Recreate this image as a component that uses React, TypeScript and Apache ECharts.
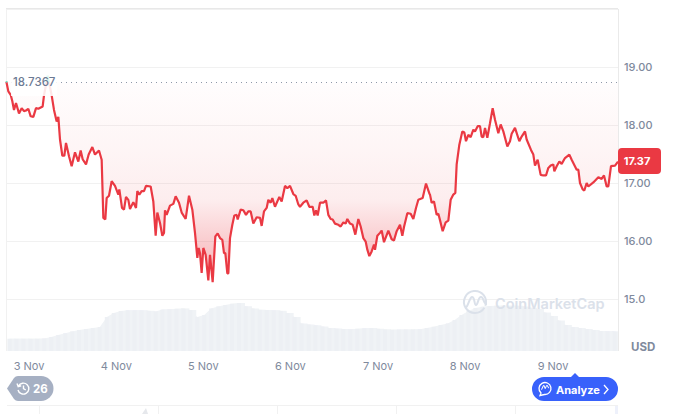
import React, { useEffect, useRef } from "react";
import * as echarts from "echarts";

const dayLabels = ["3 Nov", "4 Nov", "5 Nov", "6 Nov", "7 Nov", "8 Nov", "9 Nov"];
const daySamples = [87, 349, 610, 871, 1134, 1395, 1659];
const yTickLabels: Record<number, string> = { 15: "15.0", 16: "16.00", 17: "17.00", 18: "18.00", 19: "19.00" };
const openPrice = 18.7367;
const lastPrice = 17.37;

const sampleIndex = [
  19, 25, 32, 37, 42, 48, 57, 65, 72, 78, 85, 92, 100, 108, 115, 128, 132, 143, 155, 162, 170, 175, 180, 187, 193, 198, 207, 215, 225, 235, 242, 248, 258, 266, 277, 285, 297, 305, 310, 316, 320, 327, 335, 345, 355, 358, 366, 372, 378, 385, 390, 400, 408, 412, 418, 425, 432, 438, 452, 460, 467, 472, 480, 487, 492, 495, 500, 510, 520, 527, 537, 545, 557, 567, 577, 585, 592, 596,
  600, 605, 610, 617, 625, 630, 638, 646, 653, 660, 667, 672, 676, 682, 685, 690, 697, 703, 710, 713, 722, 730, 738, 745, 752, 760, 770, 780, 785, 792, 800, 805, 812, 817, 825, 838, 845, 855, 862, 870, 880, 887, 895, 900, 910, 920, 928, 938, 943, 948, 953, 960, 970, 978, 985, 992, 998, 1005, 1015, 1022, 1030, 1037, 1042, 1050, 1058, 1066, 1075, 1082, 1090, 1097, 1102, 1108, 1115, 1122, 1125, 1132, 1140, 1145, 1152, 1165, 1175, 1182, 1190, 1200, 1207, 1212, 1222, 1232, 1240, 1248, 1255, 1268, 1278, 1288,
  1290, 1295, 1302, 1310, 1315, 1320, 1328, 1337, 1345, 1352, 1360, 1366, 1370, 1378, 1387, 1393, 1398, 1405, 1412, 1420, 1425, 1433, 1440, 1445, 1450, 1455, 1462, 1470, 1478, 1485, 1495, 1502, 1510, 1522, 1530, 1535, 1545, 1558, 1565, 1575, 1580, 1593, 1600, 1605, 1613, 1622, 1630, 1638, 1645, 1652, 1660, 1663, 1670, 1678, 1685, 1695, 1708, 1715, 1730, 1735, 1740, 1748, 1753, 1760, 1765, 1780, 1795, 1805, 1812, 1820, 1825, 1833, 1845, 1854,
];
const prices = [
  18.75, 18.58, 18.52, 18.41, 18.26, 18.38, 18.2, 18.29, 18.24, 18.25, 18.28, 18.15, 18.14, 18.29, 18.28, 18.32, 18.51, 18.85, 18.51, 18.26, 18.06, 18.14, 17.75, 17.47, 17.47, 17.69, 17.46, 17.29, 17.53, 17.37, 17.56, 17.41, 17.32, 17.49, 17.62, 17.49, 17.56, 17.4, 16.4, 16.37, 16.74, 16.78, 17.03, 16.95, 16.8, 16.89, 16.57, 16.54, 16.76, 16.71, 16.55, 16.67, 16.57, 16.86, 16.8, 16.86, 16.86, 16.95, 16.94, 16.68, 16.09, 16.49, 16.31, 16.09, 16.14, 16.53, 16.45, 16.61, 16.64, 16.77, 16.66, 16.49, 16.38, 16.78, 16.54, 16.14, 15.71, 15.88,
  15.79, 15.45, 15.88, 15.76, 15.32, 15.76, 15.29, 16.08, 16.13, 16.05, 16.02, 15.79, 15.79, 15.44, 15.44, 16.05, 16.28, 16.44, 16.45, 16.37, 16.54, 16.53, 16.45, 16.51, 16.51, 16.3, 16.41, 16.4, 16.26, 16.51, 16.57, 16.71, 16.66, 16.74, 16.59, 16.76, 16.68, 16.95, 16.91, 16.95, 16.81, 16.78, 16.63, 16.59, 16.66, 16.7, 16.59, 16.59, 16.44, 16.53, 16.44, 16.66, 16.66, 16.7, 16.45, 16.38, 16.37, 16.3, 16.28, 16.25, 16.32, 16.3, 16.38, 16.3, 16.28, 16.11, 16.38, 16.25, 16.05, 15.99, 15.85, 15.74, 15.82, 15.94, 15.85, 16.09, 16.14, 16.18, 15.98, 16.18, 16.03, 16.01, 16.17, 16.28, 16.09, 16.24, 16.48, 16.47, 16.38, 16.57, 16.71, 16.74, 16.99, 16.82,
  16.8, 16.66, 16.68, 16.45, 16.47, 16.36, 16.17, 16.32, 16.35, 16.71, 16.8, 16.83, 17.32, 17.66, 17.89, 17.87, 17.72, 17.83, 17.79, 17.92, 17.89, 17.98, 17.98, 17.8, 17.79, 17.95, 17.78, 18.03, 18.29, 18.09, 17.86, 18.01, 17.89, 17.63, 17.72, 17.85, 17.95, 17.72, 17.8, 17.89, 17.75, 17.57, 17.49, 17.3, 17.4, 17.14, 17.13, 17.13, 17.26, 17.3, 17.32, 17.2, 17.29, 17.37, 17.33, 17.43, 17.49, 17.4, 17.23, 17.23, 17, 16.89, 16.87, 17, 16.94, 17.01, 17.1, 17.07, 17.13, 16.94, 16.94, 17.29, 17.3, 17.37,
];
const volumes = [
  12.3, 12.3, 12.3, 12.3, 12.3, 12.5, 14, 16, 17.7, 19.5, 21, 22, 23, 24, 34, 38, 40, 40.7, 40.7, 40.7, 40.2, 39.5, 41.4, 41.8, 42.2, 42.6, 41, 34, 36, 42.5, 44.5, 46, 47.3, 48, 44.8, 42.5, 41.2, 41, 40.8, 40.2, 38, 34, 27.5, 26.5, 25.7, 24.5, 23, 22.4, 22, 21.8, 22.2, 22.7, 23, 22.3, 21.6, 21.3, 21.4, 21.5, 21.6, 21.7, 23, 24.3, 26, 27.5, 31, 36, 40, 43, 44.2, 45, 45.3, 45.3, 45.3, 45.3, 44.5, 43.3, 42, 38.5, 35, 30.5, 26, 24, 23, 22, 21, 20, 19.7, 19.7,
];

const RED = "#ea3943";
const GREEN = "#16c784";
const GREY = "#808a9d";
const VOLUME = "#f0f3f6";
const WATERMARK = "#dbe1ea";

echarts.graphic.registerShape(
  "cmcWave",
  echarts.graphic.extendPath("M2 18 C5 18 6 8 9 7 C12 7 11 15 13 15 C15 15 15 7 18 7 C21 7 20 14 24 14", {})
);
echarts.graphic.registerShape(
  "badge",
  echarts.graphic.extendPath("M0 12.5 L7 2 Q8.5 0 11 0 L34 0 A12.5 12.5 0 0 1 34 25 L11 25 Q8.5 25 7 23 Z", {})
);
echarts.graphic.registerShape(
  "pill",
  echarts.graphic.extendPath("M12 4 L39 4 L43 0 L47 4 L74 4 A12 12 0 0 1 74 28 L12 28 A12 12 0 0 1 12 4 Z", {})
);
echarts.graphic.registerShape(
  "clockIcon",
  echarts.graphic.extendPath("M1.5 4 A5.5 5.5 0 1 1 1 8 M0 1.5 L1.2 4.6 L4.2 3.8 M6.5 3.5 L6.5 6.5 L8.8 8", {})
);
echarts.graphic.registerShape(
  "chatIcon",
  echarts.graphic.extendPath("M5.5 12 A6 6 0 1 0 2 10.5 L1 13 Z", {})
);

export default function App() {
  const ref = useRef<HTMLDivElement>(null);
  useEffect(() => {
    if (!ref.current) return;
    const chart = echarts.init(ref.current, undefined, { renderer: "svg" });
    const gridStroke = { stroke: "#f1f1f1", lineWidth: 1 };
    chart.setOption({
      animation: false,
      grid: [
        { left: 6, right: 56, top: 9, height: 348 },
        { left: 6, right: 56, top: 301, height: 50 },
      ],
      xAxis: [
        {
          type: "value",
          gridIndex: 0,
          min: 18,
          max: 1854,
          splitLine: { show: false },
          axisLine: { show: false },
          axisTick: { show: false },
          axisLabel: {
            customValues: daySamples,
            margin: 3,
            color: GREY,
            fontFamily: "Inter",
            fontSize: 11,
            formatter: (v: number) => dayLabels[daySamples.indexOf(v)] ?? "",
          },
        },
        {
          type: "category",
          gridIndex: 1,
          data: volumes.map((_, i) => i),
          show: false,
          boundaryGap: true,
        },
      ],
      yAxis: [
        {
          type: "value",
          gridIndex: 0,
          position: "right",
          min: 14,
          max: 20,
          interval: 1,
          axisLine: { show: false },
          axisTick: { show: false },
          splitLine: { show: true, showMinLine: false, lineStyle: { color: "#f1f1f1", width: 1 } },
          axisLabel: {
            margin: 6,
            color: GREY,
            fontFamily: "Inter",
            fontSize: 11,
            fontWeight: 500,
            formatter: (v: number) => yTickLabels[v] ?? "",
          },
        },
        { type: "value", gridIndex: 1, min: 0, max: 50, show: false },
      ],
      series: [
        {
          type: "bar",
          xAxisIndex: 1,
          yAxisIndex: 1,
          data: volumes,
          barWidth: 8,
          silent: true,
          itemStyle: { color: VOLUME },
          z: 1,
        },
        {
          type: "line",
          xAxisIndex: 1,
          yAxisIndex: 1,
          data: volumes,
          symbol: "none",
          silent: true,
          lineStyle: { width: 0 },
          areaStyle: { color: VOLUME, opacity: 1 },
          z: 1,
        },
        {
          type: "bar",
          xAxisIndex: 1,
          yAxisIndex: 1,
          data: volumes,
          barWidth: 4,
          barGap: "-100%",
          silent: true,
          itemStyle: { color: "rgba(225,230,238,0.18)" },
          z: 2,
        },
        {
          type: "line",
          xAxisIndex: 0,
          yAxisIndex: 0,
          data: sampleIndex.map((s, i) => [s, prices[i]]),
          showSymbol: false,
          symbol: "none",
          smooth: false,
          z: 3,
          lineStyle: {
            width: 2.2,
            color: new echarts.graphic.LinearGradient(
              0, 0, 0, 414,
              [
                { offset: 0, color: GREEN },
                { offset: 82 / 414, color: GREEN },
                { offset: 82 / 414, color: RED },
                { offset: 1, color: RED },
              ],
              true
            ),
          },
          areaStyle: {
            origin: openPrice,
            opacity: 1,
            color: new echarts.graphic.LinearGradient(
              0, 0, 0, 414,
              [
                { offset: 0, color: "rgba(22,199,132,0.3)" },
                { offset: 82 / 414, color: "rgba(22,199,132,0.02)" },
                { offset: 82 / 414, color: "rgba(234,57,67,0.01)" },
                { offset: 150 / 414, color: "rgba(234,57,67,0.05)" },
                { offset: 200 / 414, color: "rgba(234,57,67,0.09)" },
                { offset: 240 / 414, color: "rgba(234,57,67,0.25)" },
                { offset: 285 / 414, color: "rgba(234,57,67,0.4)" },
                { offset: 1, color: "rgba(234,57,67,0.4)" },
              ],
              true
            ),
          },
          markLine: {
            silent: true,
            symbol: "none",
            label: { show: false },
            lineStyle: { color: "#8d97a8", type: [1, 4], width: 1 },
            data: [{ yAxis: openPrice }],
          },
        },
      ],
      graphic: [
        { type: "line", shape: { x1: 6.5, y1: 9, x2: 6.5, y2: 351 }, style: gridStroke, z: 1 },
        { type: "line", shape: { x1: 618.5, y1: 9, x2: 618.5, y2: 351 }, style: { stroke: "#eaeaea", lineWidth: 1 }, z: 1 },
        { type: "line", shape: { x1: 6, y1: 8.5, x2: 618, y2: 8.5 }, style: { stroke: "#e8e8e8", lineWidth: 1 }, z: 1 },
        { type: "rect", shape: { x: 11, y: 72, width: 46, height: 24 }, style: { fill: "rgba(255,255,255,0.88)" }, z: 20 },
        {
          type: "text", x: 13, y: 82, z: 21,
          style: { text: String(openPrice), fill: "#6c7a94", font: "500 11.5px Inter", textVerticalAlign: "middle" },
        },
        { type: "rect", shape: { x: 618, y: 148, width: 43, height: 26, r: 4 }, style: { fill: RED }, z: 20 },
        {
          type: "text", x: 637, y: 161, z: 21,
          style: { text: lastPrice.toFixed(2), fill: "#fff", font: "700 11px Inter", textAlign: "center", textVerticalAlign: "middle" },
        },
        {
          type: "text", x: 631, y: 347, z: 21,
          style: { text: "USD", fill: GREY, font: "700 11.5px Inter", textVerticalAlign: "middle" },
        },
        // watermark
        {
          type: "arc", z: 6,
          shape: { cx: 475, cy: 302, r: 11, startAngle: 0.55, endAngle: 0.35 + Math.PI * 2 },
          style: { stroke: WATERMARK, lineWidth: 2, fill: "none" },
        },
        { type: "cmcWave", x: 463, y: 290, z: 6, style: { stroke: WATERMARK, lineWidth: 2, fill: "none" } },
        {
          type: "text", x: 495, y: 303, z: 6,
          style: { text: "CoinMarketCap", fill: WATERMARK, font: "600 14.5px Inter", textVerticalAlign: "middle" },
        },
        // badge
        { type: "badge", x: 7, y: 376, z: 10, style: { fill: "#a6b0c3" } },
        { type: "clockIcon", x: 17, y: 382, z: 11, style: { stroke: "#fff", lineWidth: 1.4, fill: "none" } },
        {
          type: "text", x: 33, y: 389, z: 11,
          style: { text: "26", fill: "#fff", font: "700 11.5px Inter", textVerticalAlign: "middle" },
        },
        // analyze
        { type: "pill", x: 532, y: 373, z: 10, style: { fill: "#3861fb" } },
        { type: "chatIcon", x: 539, y: 382.5, z: 11, style: { stroke: "#fff", lineWidth: 1.3, fill: "none" } },
        { type: "cmcWave", x: 540.5, y: 383, scaleX: 0.36, scaleY: 0.36, z: 11, style: { stroke: "#fff", lineWidth: 2.8, fill: "none" } },
        {
          type: "text", x: 556, y: 389.5, z: 11,
          style: { text: "Analyze", fill: "#fff", font: "700 11px Inter", textVerticalAlign: "middle" },
        },
        {
          type: "polyline", z: 11,
          shape: { points: [[604, 385], [608, 389.5], [604, 394]] },
          style: { stroke: "#fff", lineWidth: 1.3, fill: "none" },
        },
        // strip below the chart
        { type: "line", shape: { x1: 7, y1: 405.5, x2: 618, y2: 405.5 }, style: gridStroke, z: 1 },
        ...[39.5, 158.5, 277.5, 396.5, 515.5].map((x) => ({
          type: "line", shape: { x1: x, y1: 405, x2: x, y2: 414 }, style: gridStroke, z: 1,
        })),
        { type: "polygon", shape: { points: [[142, 414], [146, 408], [148, 414]] }, style: { fill: "#e6e8ec" }, z: 1 },
        { type: "rect", shape: { x: 615, y: 406, width: 3, height: 8 }, style: { fill: "#eef1fb" }, z: 1 },
      ],
    });
    return () => chart.dispose();
  }, []);
  return <div ref={ref} style={{ width: 674, height: 414, position: "absolute", left: 0, top: 0 }} />;
}
